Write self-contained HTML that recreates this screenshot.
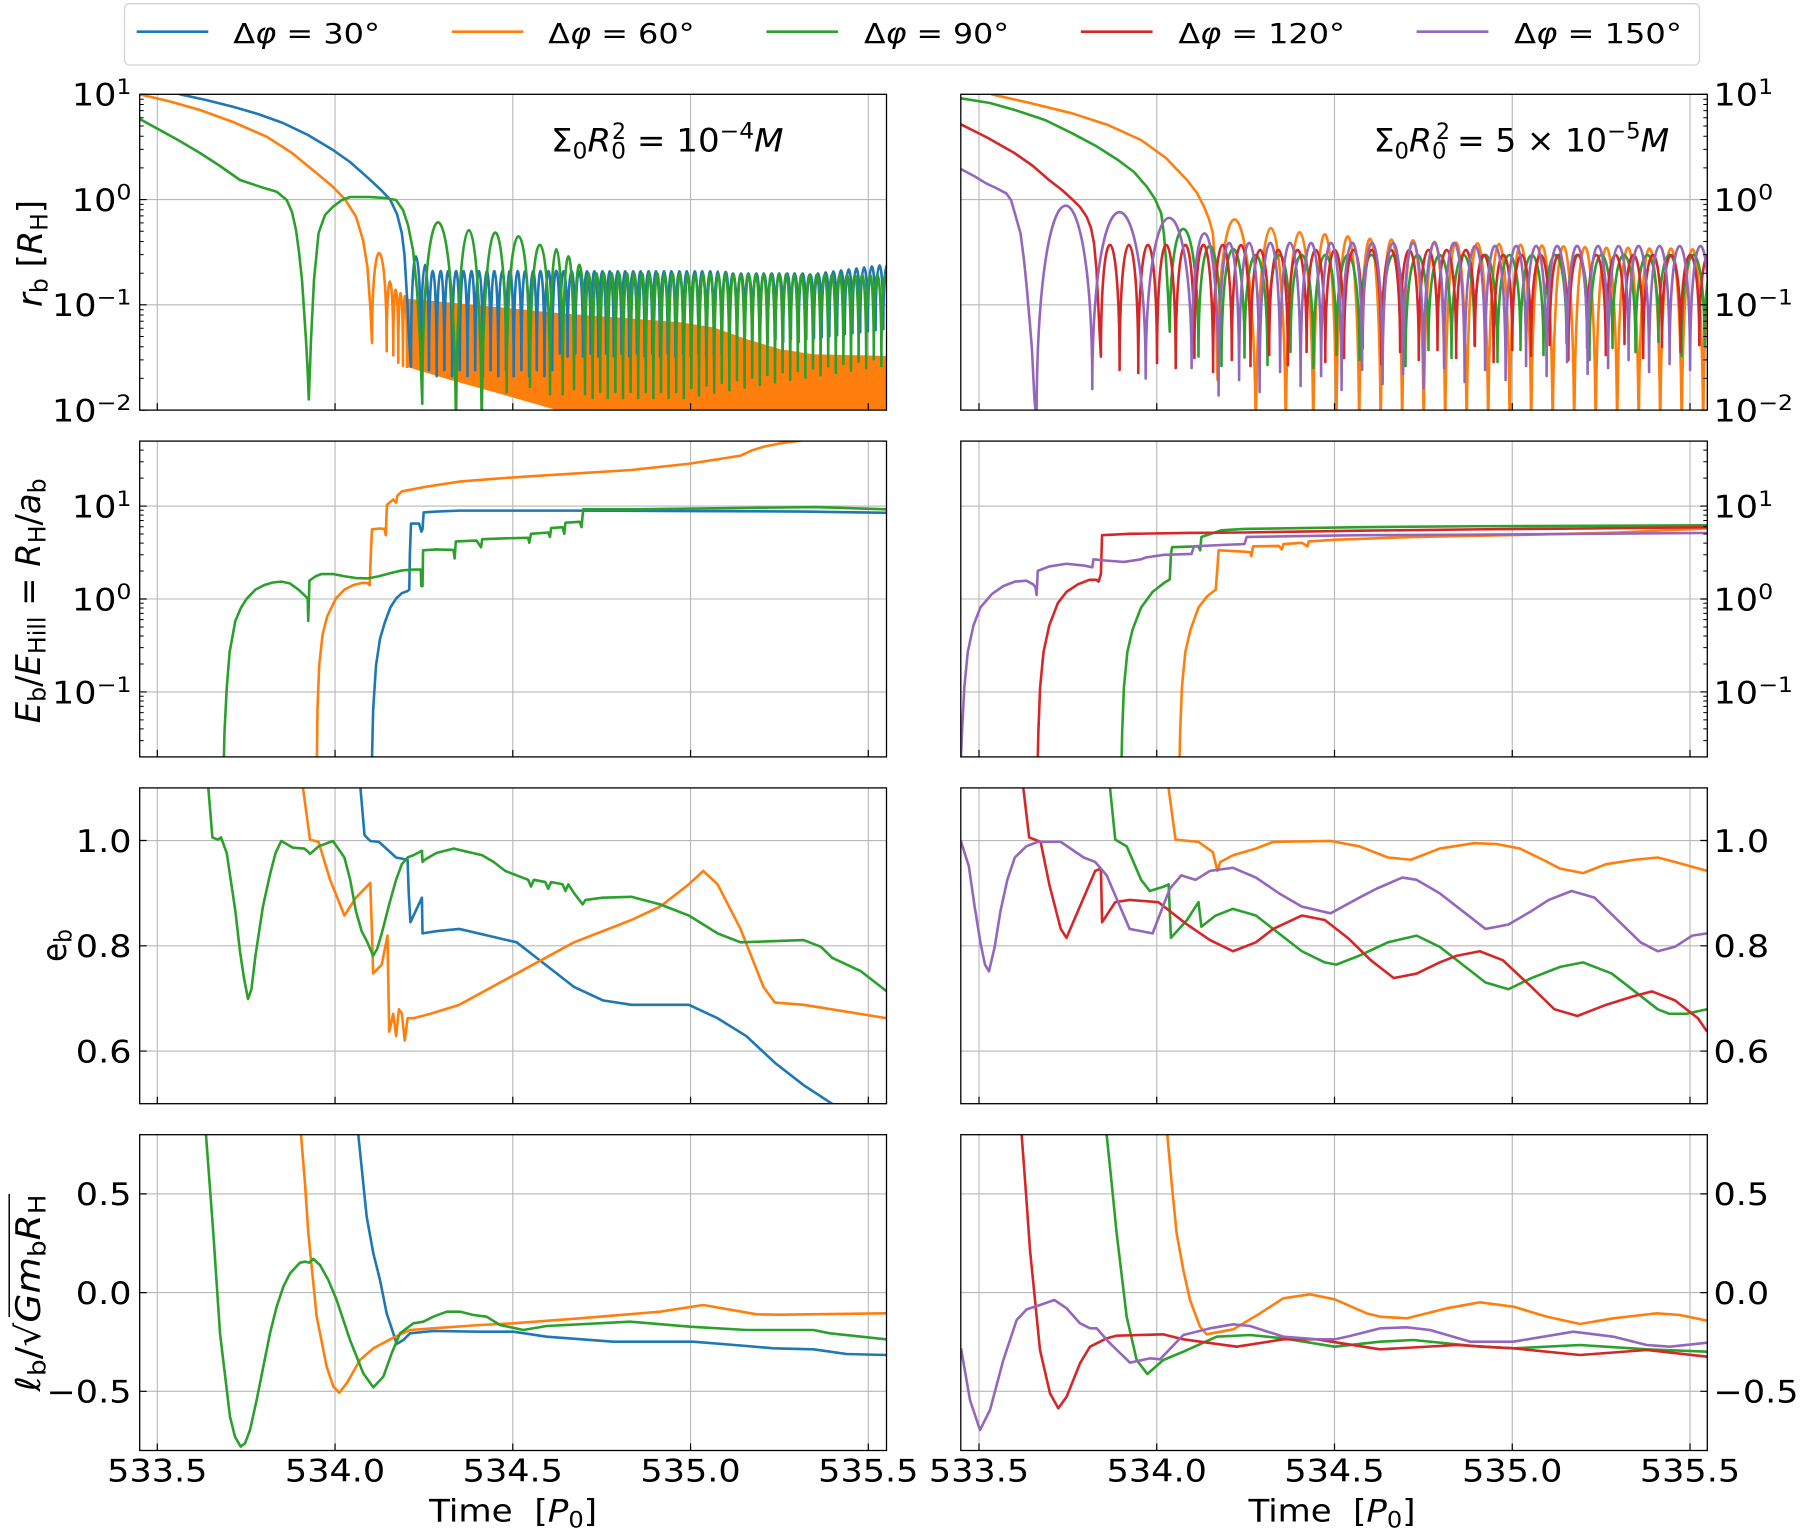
<!DOCTYPE html>
<html><head><meta charset="utf-8">
<style>
html,body{margin:0;padding:0;background:#fff;}
svg{display:block;}
text{font-family:"DejaVu Sans","Liberation Sans",sans-serif;fill:#000;}
polyline{vector-effect:non-scaling-stroke;}
</style></head><body>
<svg id="fig" xmlns="http://www.w3.org/2000/svg" width="1800" height="1528" viewBox="0 0 1800 1528">
<defs>
<clipPath id="c00"><rect x="139.7" y="94.3" width="746.8" height="315.8"/></clipPath>
<clipPath id="c01"><rect x="139.7" y="441.1" width="746.8" height="315.8"/></clipPath>
<clipPath id="c02"><rect x="139.7" y="787.9" width="746.8" height="315.8"/></clipPath>
<clipPath id="c03"><rect x="139.7" y="1134.7" width="746.8" height="315.8"/></clipPath>
<clipPath id="c10"><rect x="960.8" y="94.3" width="746.5" height="315.8"/></clipPath>
<clipPath id="c11"><rect x="960.8" y="441.1" width="746.5" height="315.8"/></clipPath>
<clipPath id="c12"><rect x="960.8" y="787.9" width="746.5" height="315.8"/></clipPath>
<clipPath id="c13"><rect x="960.8" y="1134.7" width="746.5" height="315.8"/></clipPath>
</defs>
<rect x="0" y="0" width="1800" height="1528" fill="#fff"/>

<!-- grid -->
<g fill="none" stroke="#b8b8b8" stroke-width="1.1">
<path d="M157.3 94.3V410.1M335.05 94.3V410.1M512.8 94.3V410.1M690.55 94.3V410.1M868.3 94.3V410.1M157.3 441.1V756.9M335.05 441.1V756.9M512.8 441.1V756.9M690.55 441.1V756.9M868.3 441.1V756.9M157.3 787.9V1103.7M335.05 787.9V1103.7M512.8 787.9V1103.7M690.55 787.9V1103.7M868.3 787.9V1103.7M157.3 1134.7V1450.5M335.05 1134.7V1450.5M512.8 1134.7V1450.5M690.55 1134.7V1450.5M868.3 1134.7V1450.5"/>
<path d="M979 94.3V410.1M1156.75 94.3V410.1M1334.5 94.3V410.1M1512.25 94.3V410.1M1690 94.3V410.1M979 441.1V756.9M1156.75 441.1V756.9M1334.5 441.1V756.9M1512.25 441.1V756.9M1690 441.1V756.9M979 787.9V1103.7M1156.75 787.9V1103.7M1334.5 787.9V1103.7M1512.25 787.9V1103.7M1690 787.9V1103.7M979 1134.7V1450.5M1156.75 1134.7V1450.5M1334.5 1134.7V1450.5M1512.25 1134.7V1450.5M1690 1134.7V1450.5"/>
<path d="M139.7 199.57H886.5M139.7 304.83H886.5M139.7 506.06H886.5M139.7 599H886.5M139.7 691.95H886.5M139.7 840.53H886.5M139.7 945.8H886.5M139.7 1051.07H886.5M139.7 1193.9H886.5M139.7 1292.6H886.5M139.7 1391.3H886.5"/>
<path d="M960.8 199.57H1707.3M960.8 304.83H1707.3M960.8 506.06H1707.3M960.8 599H1707.3M960.8 691.95H1707.3M960.8 840.53H1707.3M960.8 945.8H1707.3M960.8 1051.07H1707.3M960.8 1193.9H1707.3M960.8 1292.6H1707.3M960.8 1391.3H1707.3"/>
</g>

<!-- ===== Panel 1 left ===== -->
<g clip-path="url(#c00)" fill="none" stroke-width="2.6" stroke-linejoin="round">
<polygon points="407,299.5 446.7,303 560,314 680,323 713,328 746.7,340 780,350 813,355 887,356.7 890,356.7 890,420 557,420 557,409.3 500,393 450,379 410,367 407,366.5" fill="#ff7f0e" stroke="#ff7f0e" stroke-width="1.6"/>
<path stroke="#ff7f0e" d="M139.7,94.3 L170,101.5 200,110 233,122 266.7,136.7 292,153 316.7,173.3 332,186 345,199.3 356,216.7 363,240 367.4,266.7 370.5,310 372,343 c0,-121.2 14.7,-121.2 14.7,8.2 c0,-93.6 6.6,-93.6 6.6,4.2 c0,-88.6 5,-88.6 5,7.3 c0,-93.3 4.7,-93.3 4.7,3.2 c0,-93.3 4,-93.3 4,2.1"/>
<path stroke="#1f77b4" d="M165,88 L180,94.3 206,100 233,106.7 258,114 283,123 308,135 333,150 350,162 366.7,176.7 380,189 390,199.3 397,214 401.8,233 404.5,255 406,280 407.5,305 408.7,333 410,352 411,366.7 c0,-147.6 10,-147.6 10,3.4 c0,-140.4 8,-140.4 8,0
c0,-133 7.7,-133 7.7,6 c0,-139 7.7,-139 7.7,-6 c0,-133 7.7,-133 7.7,6 c0,-139 7.7,-139 7.7,-6 c0,-133 7.7,-133 7.7,6 c0,-139 7.7,-139 7.7,-6 c0,-133 7.7,-133 7.7,6 c0,-139 7.7,-139 7.7,-6
c0,-133 7.7,-133 7.7,6 c0,-139 7.7,-139 7.7,-6 c0,-133 7.7,-133 7.7,6 c0,-139 7.7,-139 7.7,-6 c0,-133 7.7,-133 7.7,6 c0,-139 7.7,-139 7.7,-6 c0,-133 7.7,-133 7.7,6 c0,-139 7.7,-139 7.7,-6
c0,-129.2 7.7,-129.2 7.7,-16.7
c0,-110 7.7,-110 7.7,3 c0,-113 7.7,-113 7.7,-3 c0,-110 7.7,-110 7.7,3 c0,-113 7.7,-113 7.7,-3 c0,-110 7.7,-110 7.7,3 c0,-113 7.7,-113 7.7,-3 c0,-110 7.7,-110 7.7,3 c0,-113 7.7,-113 7.7,-3 c0,-110 7.7,-110 7.7,3 c0,-113 7.7,-113 7.7,-3
c0,-110 7.7,-110 7.7,3 c0,-113 7.7,-113 7.7,-3 c0,-110 7.7,-110 7.7,3 c0,-113 7.7,-113 7.7,-3 c0,-110 7.7,-110 7.7,3 c0,-113 7.7,-113 7.7,-3 c0,-110 7.7,-110 7.7,3 c0,-113 7.7,-113 7.7,-3 c0,-110 7.7,-110 7.7,3 c0,-113 7.7,-113 7.7,-3
c0,-109.3 7.7,-109.3 7.7,0
c0,-106 7.7,-106 7.7,-14.3
c0,-88 7.7,-88 7.7,3 c0,-91 7.7,-91 7.7,-3 c0,-88 7.7,-88 7.7,3 c0,-91 7.7,-91 7.7,-3 c0,-88 7.7,-88 7.7,3 c0,-91 7.7,-91 7.7,-3 c0,-88 7.7,-88 7.7,3 c0,-91 7.7,-91 7.7,-3 c0,-88 7.7,-88 7.7,3 c0,-91 7.7,-91 7.7,-3
c0,-86 7.7,-86 7.7,-1 c0,-86 7.7,-86 7.7,-1 c0,-86 7.7,-86 7.7,-1 c0,-86 7.7,-86 7.7,-1 c0,-86 7.7,-86 7.7,-1 c0,-86 7.7,-86 7.7,-1 c0,-86 7.7,-86 7.7,-1 c0,-86 7.7,-86 7.7,-1 c0,-86 7.7,-86 7.7,-1 c0,-86 7.7,-86 7.7,-1 c0,-86 7.7,-86 7.7,-1"/>
<path stroke="#2ca02c" d="M139.7,119 L156.7,128.3 178,140 200,153 220,166 240,180 260,186.7 276.7,191.7 286.7,200 292,212 296,230 299,252 302,280 304,310 306,340 307.6,370 308.8,399.5 311,340 314,280 318.6,233 325,215 333,206.7 342,200 350,197 370,197 385,198 396,200 403,210 408,225 413,250 417,290 420,340 422.3,403.8
c0,-249.4 33.7,-249.4 33.7,48.4 c0,-296 25.7,-296 25.7,0 c0,-281.9 25,-281.9 25,-60.1 c0,-206.7 23.3,-206.7 23.3,-5.3 c0,-190.5 20,-190.5 20,7.5 c0,-193.7 12.7,-193.7 12.7,0 c0,-183 11.3,-183 11.3,-5.3 c0,-166.5 11,-166.5 11,5.3
c0,-161.7 7.6,-161.7 7.6,3.7
c0,-165 7.6,-165 7.6,-6 c0,-159 7.6,-159 7.6,6 c0,-165 7.6,-165 7.6,-6 c0,-159 7.6,-159 7.6,6 c0,-165 7.6,-165 7.6,-6 c0,-159 7.6,-159 7.6,6
c0,-165 7.6,-165 7.6,-6 c0,-159 7.6,-159 7.6,6 c0,-165 7.6,-165 7.6,-6 c0,-159 7.6,-159 7.6,6 c0,-165 7.6,-165 7.6,-6 c0,-159 7.6,-159 7.6,6
c0,-163.7 7.6,-163.7 7.6,-10 c0,-153.2 7.6,-153.2 7.6,7.4 c0,-160.2 7.6,-160.2 7.6,-10 c0,-149.8 7.6,-149.8 7.6,7.4 c0,-156.7 7.6,-156.7 7.6,-10 c0,-146.3 7.6,-146.3 7.6,7.4 c0,-153.3 7.6,-153.3 7.6,-10 c0,-142.8 7.6,-142.8 7.6,7.4 c0,-149.8 7.6,-149.8 7.6,-10 c0,-139.4 7.6,-139.4 7.6,7.4 c0,-146.3 7.6,-146.3 7.6,-10 c0,-135.9 7.6,-135.9 7.6,7.4 c0,-142.9 7.6,-142.9 7.6,-10 c0,-132.4 7.6,-132.4 7.6,7.4
c0,-138.2 7.6,-138.2 7.6,-9 c0,-128.9 7.6,-128.9 7.6,6.7 c0,-135.2 7.6,-135.2 7.6,-9 c0,-125.8 7.6,-125.8 7.6,6.7 c0,-132.1 7.6,-132.1 7.6,-9 c0,-122.7 7.6,-122.7 7.6,6.7 c0,-129 7.6,-129 7.6,-9 c0,-119.7 7.6,-119.7 7.6,6.7 c0,-126 7.6,-126 7.6,-9 c0,-116.6 7.6,-116.6 7.6,6.7 c0,-122.9 7.6,-122.9 7.6,-9 c0,-113.5 7.6,-113.5 7.6,6.7 c0,-119.8 7.6,-119.8 7.6,-9 c0,-110.4 7.6,-110.4 7.6,6.7"/>
</g>

<!-- ===== Panel 1 right ===== -->
<g clip-path="url(#c10)" fill="none" stroke-width="2.6" stroke-linejoin="round">
<path stroke="#ff7f0e" d="M985,90 L991.8,94.3 1030,103 1072,113.3 1108,125 1141,140 1166,158 1187,180 1197,193 1204,206.7 1209,219 1212.9,233.3 1215,265 1216,300 1217.5,380 c0,-225.9 38.4,-225.9 38.4,80 c0,-309.3 29.9,-309.3 29.9,0 c0,-303.7 27.5,-303.7 27.5,0 c0,-300.9 23,-300.9 23,0 c0,-298.1 22.9,-298.1 22.9,0
c0,-295 21.5,-295 21.5,0 c0,-294 21.5,-294 21.5,0 c0,-293 21.5,-293 21.5,0 c0,-291 21.5,-291 21.5,0 c0,-290 21.5,-290 21.5,0 c0,-289 21.5,-289 21.5,0 c0,-288 21.5,-288 21.5,0 c0,-287 21.5,-287 21.5,0 c0,-286 21.5,-286 21.5,0 c0,-285 21.5,-285 21.5,0 c0,-284 21.5,-284 21.5,0 c0,-283 21.5,-283 21.5,0 c0,-283 21.5,-283 21.5,0 c0,-282 21.5,-282 21.5,0 c0,-282 21.5,-282 21.5,0 c0,-281 21.5,-281 21.5,0 c0,-281 21.5,-281 21.5,0"/>
<path stroke="#2ca02c" d="M955,96 L960.8,98.3 990,103 1014.8,110 1045,120 1072.2,133.3 1096,146 1118,160 1134,172 1146.8,186.7 1155,199 1161.2,213.3 1164,235 1166,260 1168,295 1169.8,331.7 c0,-140.9 28.7,-140.9 28.7,24.8 c0,-149 23,-149 23,9.4 c0,-154.5 23,-154.5 23,-8.4
c0,-137.9 23,-137.9 23,7.5 c0,-144.5 23,-144.5 23,-13 c0,-132 23,-132 23,16 c0,-148.5 23,-148.5 23,-13 c0,-134.2 23,-134.2 23,5 c0,-138 23,-138 23,-12 c0,-127 23,-127 23,18 c0,-145.3 23,-145.3 23,-16 c0,-128 23,-128 23,8 c0,-135.2 23,-135.2 23,-13 c0,-122.8 23,-122.8 23,17
c0,-140.7 23,-140.7 23,-12 c0,-127.5 23,-127.5 23,5 c0,-131.3 23,-131.3 23,-12 c0,-120.2 23,-120.2 23,17 c0,-138 23,-138 23,-12 c0,-124.7 23,-124.7 23,4 c0,-127.7 23,-127.7 23,-10 c0,-118.3 23,-118.3 23,14 c0,-132.8 23,-132.8 23,-11 c0,-120.8 23,-120.8 23,5"/>
<path stroke="#d62728" d="M955,121.5 L960.8,124.3 988,138 1014.8,153.3 1033,166 1049,180 1062,190 1072.2,199.3 1080,207 1086.6,216.7 1091,228 1094,243 1096.5,270 1098,300 1099.5,330 1100.9,356.7
c0,-151.2 18.7,-151.2 18.7,13.3 c0,-167.2 18.7,-167.2 18.7,3 c0,-169 18.7,-169 18.7,-10 c0,-158.2 18.7,-158.2 18.7,5 c0,-162.3 18.7,-162.3 18.7,-10 c0,-153 18.7,-153 18.7,14 c0,-167.3 18.7,-167.3 18.7,-12 c0,-154.3 18.7,-154.3 18.7,6
c0,-152.8 18.7,-152.8 18.7,-11 c0,-141.7 18.7,-141.7 18.7,10 c0,-151.2 18.7,-151.2 18.7,-13 c0,-137.7 18.7,-137.7 18.7,10 c0,-148.7 18.7,-148.7 18.7,-4 c0,-142.3 18.7,-142.3 18.7,-10 c0,-133.3 18.7,-133.3 18.7,16 c0,-150 18.7,-150 18.7,-12 c0,-137.3 18.7,-137.3 18.7,8 c0,-145 18.7,-145 18.7,-10 c0,-134.7 18.7,-134.7 18.7,8 c0,-142 18.7,-142 18.7,-12
c0,-124 18.7,-124 18.7,16 c0,-140.7 18.7,-140.7 18.7,-12 c0,-127.7 18.7,-127.7 18.7,6 c0,-132.8 18.7,-132.8 18.7,-11 c0,-122.5 18.7,-122.5 18.7,15 c0,-138 18.7,-138 18.7,-12 c0,-125.2 18.7,-125.2 18.7,7 c0,-131.5 18.7,-131.5 18.7,-11 c0,-121 18.7,-121 18.7,14 c0,-135.5 18.7,-135.5 18.7,-11 c0,-123.5 18.7,-123.5 18.7,5 c0,-128.2 18.7,-128.2 18.7,-7 c0,-120.8 18.7,-120.8 18.7,5"/>
<path stroke="#9467bd" d="M955,166 L960.8,169 974,176 986,183.3 996,188 1006.2,193.3 1011,200 1014.5,212 1020.5,233.3 1024,260 1027,290 1030,325 1032,350 1034.5,400 1036.6,420 c0,-280.3 55.7,-280.3 55.7,-31 c0,-234 53.4,-234 53.4,-10.5 c0,-212.25 45.9,-212.25 45.9,-10.5 c0,-183.8 27,-183.8 27,27.4
c0,-200.6 20.5,-200.6 20.5,-15.4 c0,-184.7 20.5,-184.7 20.5,12 c0,-195.3 20.5,-195.3 20.5,-20 c0,-174.3 20.5,-174.3 20.5,14 c0,-189 20.5,-189 20.5,-10 c0,-179.7 20.5,-179.7 20.5,14 c0,-192.7 20.5,-192.7 20.5,-20 c0,-171.7 20.5,-171.7 20.5,14 c0,-186.3 20.5,-186.3 20.5,-10 c0,-177 20.5,-177 20.5,14 c0,-190 20.5,-190 20.5,-20 c0,-169 20.5,-169 20.5,14
c0,-179.3 20.5,-179.3 20.5,-12 c0,-167 20.5,-167 20.5,10 c0,-176.3 20.5,-176.3 20.5,-14 c0,-161.7 20.5,-161.7 20.5,10 c0,-171 20.5,-171 20.5,-14 c0,-156.7 20.5,-156.7 20.5,12 c0,-169.7 20.5,-169.7 20.5,-6 c0,-161.3 20.5,-161.3 20.5,-8 c0,-154 20.5,-154 20.5,12 c0,-166.7 20.5,-166.7 20.5,-8 c0,-158.3 20.5,-158.3 20.5,6 c0,-164.7 20.5,-164.7 20.5,-4"/>
</g>

<!-- ===== Panel 2 left ===== -->
<g clip-path="url(#c01)"><g transform="translate(0,420) scale(0.574053,0.446429)" fill="none" stroke-width="2.6" stroke-linejoin="round">
<polyline vector-effect="non-scaling-stroke" stroke="#1f77b4" points="648,760 650,650 655,550 662,490 670,455 680,420 690,400 700,388 710,383 713,380 714,300 716,232 730,232 734,250 736,245 738,207 760,205 800,203 1000,203 1200,204 1400,205 1545,208"/>
<polyline vector-effect="non-scaling-stroke" stroke="#ff7f0e" points="552,760 553,650 556,550 562,480 570,440 585,400 600,380 615,370 630,365 640,365 644,370 646,300 648,245 660,243 670,244 672,258 674,190 685,178 690,185 692,170 700,160 720,155 740,150 800,138 900,128 1000,120 1100,112 1200,98 1240,90 1270,84 1290,80 1310,68 1330,60 1360,52 1390,47 1420,40"/>
<polyline vector-effect="non-scaling-stroke" stroke="#2ca02c" points="390,760 391,700 395,600 400,520 410,450 420,420 430,400 445,380 460,370 475,364 490,362 505,366 520,380 530,392 536,400 537,450 539,360 550,350 560,345 580,345 600,350 620,354 640,355 660,350 680,343 700,337 720,335 733,335 734,372 736,372 737,292 760,290 790,291 792,310 794,272 830,270 838,285 840,267 880,265 920,264 922,275 925,255 955,252 958,262 960,242 980,240 983,255 985,230 1010,228 1013,240 1016,200 1100,200 1300,197 1420,195 1545,200"/>
</g></g>

<!-- ===== Panel 2 right ===== -->
<g clip-path="url(#c11)"><g transform="translate(900,420) scale(0.574053,0.446429)" fill="none" stroke-width="2.6" stroke-linejoin="round">
<polyline vector-effect="non-scaling-stroke" stroke="#ff7f0e" points="487,760 488,700 491,600 497,520 506,470 520,420 535,395 550,380 553,330 555,292 600,295 610,296 612,305 615,283 660,282 665,290 668,278 700,275 710,283 712,272 760,268 900,262 1100,257 1250,252 1406,243"/>
<polyline vector-effect="non-scaling-stroke" stroke="#2ca02c" points="386,760 387,700 390,600 396,520 405,470 420,420 440,385 460,365 470,357 472,300 474,285 520,283 523,292 525,262 560,247 600,244 800,240 1000,238 1406,236"/>
<polyline vector-effect="non-scaling-stroke" stroke="#d62728" points="240,760 241,700 244,600 250,520 260,460 275,410 290,385 310,368 330,358 342,358 346,362 350,345 352,258 400,255 500,253 600,252 800,248 1000,245 1200,243 1406,240"/>
<polyline vector-effect="non-scaling-stroke" stroke="#9467bd" points="106,760 108,700 112,600 118,520 128,460 140,420 160,390 180,372 200,362 220,360 232,368 236,375 238,392 240,338 260,328 290,322 320,326 335,330 337,312 360,315 390,318 420,312 428,308 460,302 508,300 512,283 560,280 600,278 604,262 700,260 800,258 1000,257 1200,255 1406,253"/>
</g></g>

<!-- ===== Panel 3 left ===== -->
<g clip-path="url(#c02)"><g transform="translate(0,420) scale(0.574053,0.446429)" fill="none" stroke-width="2.6" stroke-linejoin="round">
<polyline vector-effect="non-scaling-stroke" stroke="#1f77b4" points="624,780 628,826 635,930 645,943 660,945 690,980 710,985 712,1060 715,1125 735,1070 736,1150 760,1145 800,1140 850,1155 900,1170 950,1220 1000,1270 1050,1300 1100,1310 1200,1310 1250,1340 1300,1380 1350,1440 1400,1490 1450,1532 1460,1560"/>
<polyline vector-effect="non-scaling-stroke" stroke="#ff7f0e" points="524,780 528,826 540,940 555,945 575,1030 600,1110 620,1070 645,1037 648,1150 650,1240 665,1220 675,1155 677,1300 678,1370 685,1330 690,1380 695,1320 700,1330 705,1390 710,1340 720,1340 750,1330 800,1310 900,1240 1000,1170 1100,1120 1150,1090 1200,1040 1225,1010 1250,1040 1290,1140 1330,1270 1350,1305 1400,1310 1545,1340"/>
<polyline vector-effect="non-scaling-stroke" stroke="#2ca02c" points="358,780 363,826 370,935 380,940 385,935 395,970 410,1100 418,1190 425,1250 432,1297 438,1275 445,1200 458,1090 470,1020 480,970 490,943 510,958 530,960 535,965 540,972 555,955 580,943 600,980 610,1030 620,1100 630,1145 640,1170 650,1200 657,1185 665,1150 678,1085 690,1030 700,995 710,980 720,975 735,965 736,990 740,985 760,970 790,960 840,975 860,990 880,1010 920,1030 925,1045 930,1030 950,1035 955,1050 960,1035 980,1040 985,1055 990,1040 1000,1060 1015,1085 1020,1075 1050,1070 1100,1068 1150,1085 1200,1110 1250,1150 1290,1170 1400,1165 1430,1180 1450,1205 1500,1235 1545,1280"/>
</g></g>

<!-- ===== Panel 3 right ===== -->
<g clip-path="url(#c12)"><g transform="translate(900,420) scale(0.574053,0.446429)" fill="none" stroke-width="2.6" stroke-linejoin="round">
<polyline vector-effect="non-scaling-stroke" stroke="#ff7f0e" points="465,780 468,826 480,940 520,945 545,968 553,1010 558,990 580,975 620,960 650,945 750,943 800,955 850,980 890,985 940,960 1000,948 1040,950 1080,960 1120,985 1150,1005 1190,1015 1230,995 1280,985 1320,980 1350,990 1406,1010"/>
<polyline vector-effect="non-scaling-stroke" stroke="#2ca02c" points="362,780 366,826 375,940 395,955 420,1030 435,1055 460,1045 468,1040 472,1160 500,1120 520,1080 525,1135 550,1110 580,1095 620,1110 660,1150 700,1190 740,1215 760,1220 800,1200 850,1170 900,1155 940,1180 980,1220 1020,1260 1060,1275 1100,1250 1150,1225 1190,1215 1240,1240 1280,1280 1320,1320 1340,1330 1370,1330 1406,1320"/>
<polyline vector-effect="non-scaling-stroke" stroke="#d62728" points="212,780 215,826 225,935 245,945 260,1040 280,1140 290,1160 310,1100 340,1010 350,1005 352,1125 375,1080 400,1075 450,1080 470,1100 500,1130 540,1165 580,1190 620,1170 650,1140 700,1110 740,1120 780,1160 820,1210 860,1250 900,1240 940,1215 970,1200 1010,1190 1050,1210 1100,1270 1140,1320 1180,1335 1230,1310 1280,1290 1310,1280 1350,1300 1390,1340 1406,1370"/>
<polyline vector-effect="non-scaling-stroke" stroke="#9467bd" points="100,930 106,943 120,1000 130,1090 140,1170 148,1220 155,1235 165,1180 175,1100 187,1030 200,980 220,955 240,945 280,945 320,980 340,990 360,1020 380,1080 400,1140 420,1145 440,1150 455,1100 470,1050 490,1020 515,1030 540,1010 580,1003 620,1025 660,1060 700,1090 750,1105 800,1070 830,1050 875,1025 900,1030 940,1060 980,1100 1020,1140 1060,1130 1100,1100 1130,1075 1170,1055 1210,1070 1250,1120 1290,1170 1320,1190 1350,1180 1380,1155 1406,1150"/>
</g></g>

<!-- ===== Panel 4 left ===== -->
<g clip-path="url(#c03)"><g transform="translate(0,1100) scale(0.333333)" fill="none" stroke-width="2.6" stroke-linejoin="round">
<polyline vector-effect="non-scaling-stroke" stroke="#1f77b4" points="1070,60 1075,105 1100,350 1120,460 1140,540 1160,640 1180,700 1190,732 1210,720 1230,700 1300,693 1440,695 1540,695 1640,710 1840,725 2080,725 2240,738 2320,745 2440,748 2540,762 2658,765"/>
<polyline vector-effect="non-scaling-stroke" stroke="#ff7f0e" points="895,60 903,105 915,250 925,400 950,650 980,800 1000,860 1018,878 1040,850 1080,780 1120,745 1180,713 1230,690 1300,685 1440,675 1540,670 1740,655 1980,635 2110,615 2270,643 2340,644 2658,640"/>
<polyline vector-effect="non-scaling-stroke" stroke="#2ca02c" points="610,60 618,105 640,400 660,700 690,950 705,1010 722,1040 735,1030 750,990 770,900 790,800 810,700 830,620 850,560 870,520 900,488 915,485 928,488 940,477 960,495 985,540 1010,600 1050,720 1090,820 1120,862 1150,830 1175,760 1200,700 1240,670 1270,665 1300,650 1340,635 1380,635 1420,645 1460,650 1500,675 1570,690 1640,678 1890,665 2070,680 2240,690 2440,690 2490,700 2658,718"/>
</g></g>

<!-- ===== Panel 4 right ===== -->
<g clip-path="url(#c13)"><g transform="translate(950,1100) scale(0.333333)" fill="none" stroke-width="2.6" stroke-linejoin="round">
<polyline vector-effect="non-scaling-stroke" stroke="#ff7f0e" points="648,60 652,105 665,250 680,400 700,510 720,600 750,680 770,703 850,688 930,640 1000,595 1080,583 1154,598 1250,640 1290,650 1370,655 1490,625 1590,607 1690,620 1790,650 1890,672 1990,655 2120,640 2190,645 2272,662"/>
<polyline vector-effect="non-scaling-stroke" stroke="#2ca02c" points="465,60 470,105 485,250 500,400 530,650 560,780 592,822 640,780 700,755 800,710 900,705 1000,715 1154,740 1290,725 1390,720 1590,740 1690,745 1890,735 2090,748 2272,755"/>
<polyline vector-effect="non-scaling-stroke" stroke="#d62728" points="210,60 215,105 228,280 240,450 270,750 300,880 325,925 350,890 390,790 420,740 470,715 500,707 640,703 700,718 860,740 1000,718 1100,718 1290,748 1520,735 1690,745 1890,765 2090,750 2272,770"/>
<polyline vector-effect="non-scaling-stroke" stroke="#9467bd" points="33,745 60,900 90,990 120,930 160,780 200,660 230,628 270,615 313,600 350,625 390,670 420,685 440,685 480,730 540,788 600,775 630,778 700,705 780,685 850,673 900,678 1000,710 1100,718 1154,718 1200,708 1290,685 1370,682 1440,690 1560,725 1690,725 1870,695 1990,710 2090,735 2160,740 2272,728"/>
</g></g>

<!-- frames and ticks -->
<g fill="none" stroke="#000" stroke-width="1.3">
<rect x="139.7" y="94.3" width="746.8" height="315.8"/>
<rect x="139.7" y="441.1" width="746.8" height="315.8"/>
<rect x="139.7" y="787.9" width="746.8" height="315.8"/>
<rect x="139.7" y="1134.7" width="746.8" height="315.8"/>
<rect x="960.8" y="94.3" width="746.5" height="315.8"/>
<rect x="960.8" y="441.1" width="746.5" height="315.8"/>
<rect x="960.8" y="787.9" width="746.5" height="315.8"/>
<rect x="960.8" y="1134.7" width="746.5" height="315.8"/>
</g>
<g fill="none" stroke="#000" stroke-width="1.2">
<path d="M157.3 410.1v-7M335.05 410.1v-7M512.8 410.1v-7M690.55 410.1v-7M868.3 410.1v-7M157.3 756.9v-7M335.05 756.9v-7M512.8 756.9v-7M690.55 756.9v-7M868.3 756.9v-7M157.3 1103.7v-7M335.05 1103.7v-7M512.8 1103.7v-7M690.55 1103.7v-7M868.3 1103.7v-7M157.3 1450.5v-7M335.05 1450.5v-7M512.8 1450.5v-7M690.55 1450.5v-7M868.3 1450.5v-7"/>
<path d="M979 410.1v-7M1156.75 410.1v-7M1334.5 410.1v-7M1512.25 410.1v-7M1690 410.1v-7M979 756.9v-7M1156.75 756.9v-7M1334.5 756.9v-7M1512.25 756.9v-7M1690 756.9v-7M979 1103.7v-7M1156.75 1103.7v-7M1334.5 1103.7v-7M1512.25 1103.7v-7M1690 1103.7v-7M979 1450.5v-7M1156.75 1450.5v-7M1334.5 1450.5v-7M1512.25 1450.5v-7M1690 1450.5v-7"/>
<path d="M139.7 94.3h7M139.7 199.57h7M139.7 304.83h7M139.7 410.1h7M139.7 506.06h7M139.7 599h7M139.7 691.95h7M139.7 840.53h7M139.7 945.8h7M139.7 1051.07h7M139.7 1193.9h7M139.7 1292.6h7M139.7 1391.3h7"/>
<path d="M1707.3 94.3h-7M1707.3 199.57h-7M1707.3 304.83h-7M1707.3 410.1h-7M1707.3 506.06h-7M1707.3 599h-7M1707.3 691.95h-7M1707.3 840.53h-7M1707.3 945.8h-7M1707.3 1051.07h-7M1707.3 1193.9h-7M1707.3 1292.6h-7M1707.3 1391.3h-7"/>
</g>
<g fill="none" stroke="#000" stroke-width="1">
<path d="M139.7 378.4h4M139.7 359.9h4M139.7 346.7h4M139.7 336.5h4M139.7 328.2h4M139.7 321.2h4M139.7 315h4M139.7 309.7h4M139.7 273.2h4M139.7 254.6h4M139.7 241.5h4M139.7 231.2h4M139.7 222.9h4M139.7 215.9h4M139.7 209.8h4M139.7 204.4h4M139.7 167.9h4M139.7 149.4h4M139.7 136.2h4M139.7 126h4M139.7 117.7h4M139.7 110.6h4M139.7 104.5h4M139.7 99.2h4"/>
<path d="M139.7 740.6h4M139.7 728.9h4M139.7 719.9h4M139.7 712.6h4M139.7 706.4h4M139.7 701h4M139.7 696.2h4M139.7 664h4M139.7 647.6h4M139.7 636h4M139.7 627h4M139.7 619.6h4M139.7 613.4h4M139.7 608h4M139.7 603.3h4M139.7 571h4M139.7 554.7h4M139.7 543.1h4M139.7 534h4M139.7 526.7h4M139.7 520.5h4M139.7 515.1h4M139.7 510.3h4M139.7 478.1h4M139.7 461.7h4M139.7 450.1h4"/>
<path d="M1707.3 378.4h-4M1707.3 359.9h-4M1707.3 346.7h-4M1707.3 336.5h-4M1707.3 328.2h-4M1707.3 321.2h-4M1707.3 315h-4M1707.3 309.7h-4M1707.3 273.2h-4M1707.3 254.6h-4M1707.3 241.5h-4M1707.3 231.2h-4M1707.3 222.9h-4M1707.3 215.9h-4M1707.3 209.8h-4M1707.3 204.4h-4M1707.3 167.9h-4M1707.3 149.4h-4M1707.3 136.2h-4M1707.3 126h-4M1707.3 117.7h-4M1707.3 110.6h-4M1707.3 104.5h-4M1707.3 99.2h-4"/>
<path d="M1707.3 740.6h-4M1707.3 728.9h-4M1707.3 719.9h-4M1707.3 712.6h-4M1707.3 706.4h-4M1707.3 701h-4M1707.3 696.2h-4M1707.3 664h-4M1707.3 647.6h-4M1707.3 636h-4M1707.3 627h-4M1707.3 619.6h-4M1707.3 613.4h-4M1707.3 608h-4M1707.3 603.3h-4M1707.3 571h-4M1707.3 554.7h-4M1707.3 543.1h-4M1707.3 534h-4M1707.3 526.7h-4M1707.3 520.5h-4M1707.3 515.1h-4M1707.3 510.3h-4M1707.3 478.1h-4M1707.3 461.7h-4M1707.3 450.1h-4"/>
</g>

<!-- Legend -->
<rect x="124.5" y="3.7" width="1575" height="61.3" rx="5" ry="5" fill="#fff" stroke="#d4d4d4" stroke-width="1.3"/>
<g stroke-width="2.6">
<line x1="136.7" y1="31.7" x2="208.3" y2="31.7" stroke="#1f77b4"/>
<line x1="451.8" y1="31.7" x2="523.5" y2="31.7" stroke="#ff7f0e"/>
<line x1="766.4" y1="31.7" x2="838.1" y2="31.7" stroke="#2ca02c"/>
<line x1="1080.8" y1="31.7" x2="1152.6" y2="31.7" stroke="#d62728"/>
<line x1="1416.6" y1="31.7" x2="1488.4" y2="31.7" stroke="#9467bd"/>
</g>
<g font-size="28">
<text x="233.3" y="43" textLength="146.7" lengthAdjust="spacingAndGlyphs">Δ<tspan font-style="italic">φ</tspan> = 30°</text>
<text x="548.2" y="43" textLength="146.4" lengthAdjust="spacingAndGlyphs">Δ<tspan font-style="italic">φ</tspan> = 60°</text>
<text x="864" y="43" textLength="145" lengthAdjust="spacingAndGlyphs">Δ<tspan font-style="italic">φ</tspan> = 90°</text>
<text x="1178.4" y="43" textLength="166.5" lengthAdjust="spacingAndGlyphs">Δ<tspan font-style="italic">φ</tspan> = 120°</text>
<text x="1514.2" y="43" textLength="167.7" lengthAdjust="spacingAndGlyphs">Δ<tspan font-style="italic">φ</tspan> = 150°</text>
</g>

<!-- Annotations -->
<text x="551" y="151.7" font-size="32" textLength="232.6" lengthAdjust="spacingAndGlyphs">Σ<tspan font-size="22" dy="7">0</tspan><tspan font-style="italic" dy="-7">R</tspan><tspan font-size="22" dy="7">0</tspan><tspan dy="-7"> = 10</tspan><tspan font-size="22" dy="-13">−4</tspan><tspan font-style="italic" dy="13">M</tspan></text>
<text x="612" y="139" font-size="22">2</text>
<text x="1373.6" y="151.7" font-size="32" textLength="295.6" lengthAdjust="spacingAndGlyphs">Σ<tspan font-size="22" dy="7">0</tspan><tspan font-style="italic" dy="-7">R</tspan><tspan font-size="22" dy="7">0</tspan><tspan dy="-7"> = 5 × 10</tspan><tspan font-size="22" dy="-13">−5</tspan><tspan font-style="italic" dy="13">M</tspan></text>
<text x="1436" y="139" font-size="22">2</text>

<!-- X tick labels -->
<g font-size="31" text-anchor="middle">
<text transform="translate(157.3,1481.7) scale(1.13,1)">533.5</text>
<text transform="translate(335.05,1481.7) scale(1.13,1)">534.0</text>
<text transform="translate(512.8,1481.7) scale(1.13,1)">534.5</text>
<text transform="translate(690.55,1481.7) scale(1.13,1)">535.0</text>
<text transform="translate(868.3,1481.7) scale(1.13,1)">535.5</text>
<text transform="translate(979,1481.7) scale(1.13,1)">533.5</text>
<text transform="translate(1156.75,1481.7) scale(1.13,1)">534.0</text>
<text transform="translate(1334.5,1481.7) scale(1.13,1)">534.5</text>
<text transform="translate(1512.25,1481.7) scale(1.13,1)">535.0</text>
<text transform="translate(1690,1481.7) scale(1.13,1)">535.5</text>
</g>
<text x="513.1" y="1521.7" text-anchor="middle" font-size="31" textLength="168" lengthAdjust="spacingAndGlyphs">Time&#160;&#160;[<tspan font-style="italic">P</tspan><tspan font-size="22" dy="6">0</tspan><tspan dy="-6">]</tspan></text>
<text x="1332" y="1521.7" text-anchor="middle" font-size="31" textLength="167" lengthAdjust="spacingAndGlyphs">Time&#160;&#160;[<tspan font-style="italic">P</tspan><tspan font-size="22" dy="6">0</tspan><tspan dy="-6">]</tspan></text>

<!-- Y tick labels left -->
<g font-size="31" text-anchor="end">
<text transform="translate(131.5,105.6) scale(1.13,1)">10<tspan dy="-11.5" font-size="21">1</tspan></text>
<text transform="translate(131.5,210.9) scale(1.13,1)">10<tspan dy="-11.5" font-size="21">0</tspan></text>
<text transform="translate(131.5,316.1) scale(1.13,1)">10<tspan dy="-11.5" font-size="21">−1</tspan></text>
<text transform="translate(131.5,421.4) scale(1.13,1)">10<tspan dy="-11.5" font-size="21">−2</tspan></text>
<text transform="translate(131.5,517.4) scale(1.13,1)">10<tspan dy="-11.5" font-size="21">1</tspan></text>
<text transform="translate(131.5,610.3) scale(1.13,1)">10<tspan dy="-11.5" font-size="21">0</tspan></text>
<text transform="translate(131.5,703.3) scale(1.13,1)">10<tspan dy="-11.5" font-size="21">−1</tspan></text>
<text transform="translate(131.5,851.8) scale(1.13,1)">1.0</text>
<text transform="translate(131.5,957.1) scale(1.13,1)">0.8</text>
<text transform="translate(131.5,1062.4) scale(1.13,1)">0.6</text>
<text transform="translate(131.5,1205.2) scale(1.13,1)">0.5</text>
<text transform="translate(131.5,1303.9) scale(1.13,1)">0.0</text>
<text transform="translate(131.5,1402.6) scale(1.13,1)">−0.5</text>
</g>
<!-- Y tick labels right -->
<g font-size="31" text-anchor="start">
<text transform="translate(1713.5,105.6) scale(1.13,1)">10<tspan dy="-11.5" font-size="21">1</tspan></text>
<text transform="translate(1713.5,210.9) scale(1.13,1)">10<tspan dy="-11.5" font-size="21">0</tspan></text>
<text transform="translate(1713.5,316.1) scale(1.13,1)">10<tspan dy="-11.5" font-size="21">−1</tspan></text>
<text transform="translate(1713.5,421.4) scale(1.13,1)">10<tspan dy="-11.5" font-size="21">−2</tspan></text>
<text transform="translate(1713.5,517.4) scale(1.13,1)">10<tspan dy="-11.5" font-size="21">1</tspan></text>
<text transform="translate(1713.5,610.3) scale(1.13,1)">10<tspan dy="-11.5" font-size="21">0</tspan></text>
<text transform="translate(1713.5,703.3) scale(1.13,1)">10<tspan dy="-11.5" font-size="21">−1</tspan></text>
<text transform="translate(1713.5,851.8) scale(1.13,1)">1.0</text>
<text transform="translate(1713.5,957.1) scale(1.13,1)">0.8</text>
<text transform="translate(1713.5,1062.4) scale(1.13,1)">0.6</text>
<text transform="translate(1713.5,1205.2) scale(1.13,1)">0.5</text>
<text transform="translate(1713.5,1303.9) scale(1.13,1)">0.0</text>
<text transform="translate(1713.5,1402.6) scale(1.13,1)">−0.5</text>
</g>

<!-- Y axis labels -->
<g transform="translate(42,253.5) scale(1.14,1) rotate(-90)">
<text x="0" y="0" text-anchor="middle" font-size="30" textLength="107" lengthAdjust="spacingAndGlyphs"><tspan font-style="italic">r</tspan><tspan font-size="21" dy="5">b</tspan><tspan dy="-5">&#160;[</tspan><tspan font-style="italic">R</tspan><tspan font-size="21" dy="5">H</tspan><tspan dy="-5">]</tspan></text>
</g>
<g transform="translate(40,600.8) scale(1.14,1) rotate(-90)">
<text x="0" y="0" text-anchor="middle" font-size="30" textLength="245" lengthAdjust="spacingAndGlyphs"><tspan font-style="italic">E</tspan><tspan font-size="21" dy="5">b</tspan><tspan dy="-5">/</tspan><tspan font-style="italic">E</tspan><tspan font-size="21" dy="5">Hill</tspan><tspan dy="-5"> = </tspan><tspan font-style="italic">R</tspan><tspan font-size="21" dy="5">H</tspan><tspan dy="-5">/</tspan><tspan font-style="italic">a</tspan><tspan font-size="21" dy="5">b</tspan></text>
</g>
<g transform="translate(66,945.5) scale(1.14,1) rotate(-90)">
<text x="0" y="0" text-anchor="middle" font-size="30" textLength="33" lengthAdjust="spacingAndGlyphs">e<tspan font-size="21" dy="5">b</tspan></text>
</g>
<g transform="translate(40,1293) scale(1.14,1) rotate(-90)">
<text x="0" y="0" text-anchor="middle" font-size="30" textLength="197" lengthAdjust="spacingAndGlyphs">ℓ<tspan font-size="21" dy="5">b</tspan><tspan dy="-5">/√</tspan><tspan font-style="italic">Gm</tspan><tspan font-size="21" dy="5">b</tspan><tspan font-style="italic" dy="-5">R</tspan><tspan font-size="21" dy="5">H</tspan></text>
<line x1="-24" y1="-27" x2="99" y2="-27" stroke="#000" stroke-width="1.3"/>
</g>
</svg>
</body></html>
